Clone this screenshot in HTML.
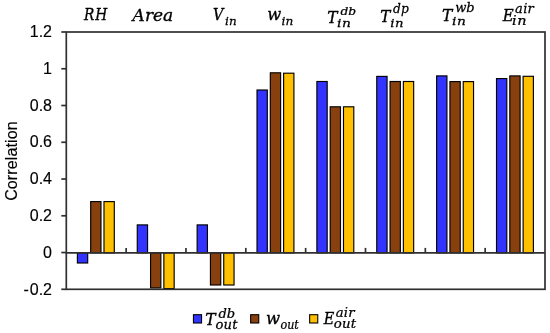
<!DOCTYPE html>
<html><head><meta charset="utf-8"><title>Correlation chart</title>
<style>
html,body{margin:0;padding:0;background:#fff;}
svg{display:block}
.a{font-family:"Liberation Sans",Arial,sans-serif;font-size:16px;fill:#000;stroke:#000;stroke-width:0.15px}
.m{font-family:"DejaVu Serif","Liberation Serif",serif;font-style:italic;fill:#000;stroke:#000;stroke-width:0.35px}
.c{font-family:"DejaVu Serif Condensed","DejaVu Serif","Liberation Serif",serif}
</style></head><body>
<svg width="550" height="333" viewBox="0 0 550 333">
<rect x="0" y="0" width="550" height="333" fill="#fff"/>
<g stroke="#000" stroke-width="1.15">
<rect x="77.39" y="252.90" width="10.30" height="10.10" fill="#3333FF"/>
<rect x="90.69" y="201.60" width="10.30" height="51.30" fill="#87400E"/>
<rect x="103.99" y="201.60" width="10.30" height="51.30" fill="#FFC000"/>
<rect x="137.26" y="224.90" width="10.30" height="28.00" fill="#3333FF"/>
<rect x="150.56" y="252.90" width="10.30" height="35.00" fill="#87400E"/>
<rect x="163.86" y="252.90" width="10.30" height="35.70" fill="#FFC000"/>
<rect x="197.14" y="224.90" width="10.30" height="28.00" fill="#3333FF"/>
<rect x="210.44" y="252.90" width="10.30" height="32.10" fill="#87400E"/>
<rect x="223.74" y="252.90" width="10.30" height="32.10" fill="#FFC000"/>
<rect x="257.01" y="90.00" width="10.30" height="162.90" fill="#3333FF"/>
<rect x="270.31" y="72.80" width="10.30" height="180.10" fill="#87400E"/>
<rect x="283.61" y="73.20" width="10.30" height="179.70" fill="#FFC000"/>
<rect x="316.89" y="81.50" width="10.30" height="171.40" fill="#3333FF"/>
<rect x="330.19" y="106.80" width="10.30" height="146.10" fill="#87400E"/>
<rect x="343.49" y="106.80" width="10.30" height="146.10" fill="#FFC000"/>
<rect x="376.76" y="76.40" width="10.30" height="176.50" fill="#3333FF"/>
<rect x="390.06" y="81.50" width="10.30" height="171.40" fill="#87400E"/>
<rect x="403.36" y="81.50" width="10.30" height="171.40" fill="#FFC000"/>
<rect x="436.64" y="75.90" width="10.30" height="177.00" fill="#3333FF"/>
<rect x="449.94" y="81.60" width="10.30" height="171.30" fill="#87400E"/>
<rect x="463.24" y="81.60" width="10.30" height="171.30" fill="#FFC000"/>
<rect x="496.51" y="78.60" width="10.30" height="174.30" fill="#3333FF"/>
<rect x="509.81" y="75.90" width="10.30" height="177.00" fill="#87400E"/>
<rect x="523.11" y="76.30" width="10.30" height="176.60" fill="#FFC000"/>
</g>
<g stroke="#303030" stroke-width="1.7" fill="none">
<rect x="66.3" y="32.0" width="478.7" height="257.3"/>
<line x1="66.3" y1="252.9" x2="545.0" y2="252.9"/>
<line x1="126.14" y1="252.9" x2="126.14" y2="247.9"/>
<line x1="185.97" y1="252.9" x2="185.97" y2="247.9"/>
<line x1="245.81" y1="252.9" x2="245.81" y2="247.9"/>
<line x1="305.65" y1="252.9" x2="305.65" y2="247.9"/>
<line x1="365.49" y1="252.9" x2="365.49" y2="247.9"/>
<line x1="425.32" y1="252.9" x2="425.32" y2="247.9"/>
<line x1="485.16" y1="252.9" x2="485.16" y2="247.9"/>
<line x1="61.3" y1="32.00" x2="66.3" y2="32.00"/>
<line x1="61.3" y1="68.76" x2="66.3" y2="68.76"/>
<line x1="61.3" y1="105.51" x2="66.3" y2="105.51"/>
<line x1="61.3" y1="142.27" x2="66.3" y2="142.27"/>
<line x1="61.3" y1="179.03" x2="66.3" y2="179.03"/>
<line x1="61.3" y1="215.79" x2="66.3" y2="215.79"/>
<line x1="61.3" y1="252.54" x2="66.3" y2="252.54"/>
<line x1="61.3" y1="289.30" x2="66.3" y2="289.30"/>
</g>
<g class="a" text-anchor="end">
<text x="52" y="37.20">1.2</text>
<text x="52" y="73.96">1</text>
<text x="52" y="110.71">0.8</text>
<text x="52" y="147.47">0.6</text>
<text x="52" y="184.23">0.4</text>
<text x="52" y="220.99">0.2</text>
<text x="52" y="257.74">0</text>
<text x="52" y="294.50"><tspan letter-spacing="0.8">-</tspan>0.2</text>
</g>
<text transform="translate(16.7,161) rotate(-90)" text-anchor="middle" letter-spacing="0.13" class="a">Correlation</text>
<g class="m">
<text transform="translate(84.09,20.35) scale(0.881,1)" font-size="17.3" class="c" letter-spacing="1.0">RH</text>
<text transform="translate(132.60,20.6) scale(0.985,1)" font-size="17.3">Area</text>
<text transform="translate(213.08,20.2) scale(0.916,1)" font-size="17.3" class="c">V</text>
<text transform="translate(225.09,25.3) scale(1.006,1)" font-size="11.9" stroke-width="0.25">in</text>
<text transform="translate(267.19,20.4) scale(0.983,1)" font-size="16.6">w</text>
<text transform="translate(281.48,25.2) scale(1.026,1)" font-size="11.9" stroke-width="0.25">in</text>
<text transform="translate(327.13,22.5) scale(0.984,1)" font-size="17.3" class="c">T</text>
<text transform="translate(340.45,14.8) scale(1.096,1)" font-size="11.2" stroke-width="0.25">db</text>
<text transform="translate(337.07,27.4) scale(1.203,1)" font-size="11.5" stroke-width="0.25" letter-spacing="0.4">in</text>
<text transform="translate(380.14,22.1) scale(0.975,1)" font-size="17.3" class="c">T</text>
<text transform="translate(393.07,12.55) scale(1.002,1)" font-size="12.2" stroke-width="0.25">dp</text>
<text transform="translate(390.30,27.4) scale(1.153,1)" font-size="11.5" stroke-width="0.25" letter-spacing="0.4">in</text>
<text transform="translate(442.12,20.9) scale(0.994,1)" font-size="17.3" class="c">T</text>
<text transform="translate(455.20,12.4) scale(1.088,1)" font-size="12.0" stroke-width="0.25">wb</text>
<text transform="translate(452.10,25.4) scale(1.160,1)" font-size="11.9" stroke-width="0.25" letter-spacing="0.4">in</text>
<text transform="translate(502.71,20.5) scale(0.964,1)" font-size="17.3" class="c">E</text>
<text transform="translate(515.12,12.55) scale(0.993,1)" font-size="13.2" stroke-width="0.25" letter-spacing="0.2">air</text>
<text transform="translate(512.07,25.4) scale(1.193,1)" font-size="12.1" stroke-width="0.25" letter-spacing="0.4">in</text>
<text transform="translate(205.32,325.1) scale(0.994,1)" font-size="17.3" class="c">T</text>
<text transform="translate(218.45,317.5) scale(1.089,1)" font-size="12.0" stroke-width="0.25">db</text>
<text transform="translate(215.49,329.15) scale(1.070,1)" font-size="12.3" stroke-width="0.25" letter-spacing="0.2">out</text>
<text transform="translate(265.98,323.6) scale(0.991,1)" font-size="16.6">w</text>
<text transform="translate(280.46,328.55) scale(0.915,1)" font-size="12.2" stroke-width="0.25">out</text>
<text transform="translate(323.70,323.8) scale(0.928,1)" font-size="17.3" class="c">E</text>
<text transform="translate(335.71,316.6) scale(1.015,1)" font-size="13.1" stroke-width="0.25" letter-spacing="0.2">air</text>
<text transform="translate(333.78,327.85) scale(1.085,1)" font-size="12.3" stroke-width="0.25" letter-spacing="0.2">out</text>
</g>
<rect x="193.45" y="314.7" width="8.1" height="8.3" fill="#3333FF" stroke="#000" stroke-width="1.1"/>
<rect x="250.65" y="314.7" width="8.1" height="8.3" fill="#87400E" stroke="#000" stroke-width="1.1"/>
<rect x="309.65" y="314.7" width="8.1" height="8.3" fill="#FFC000" stroke="#000" stroke-width="1.1"/>
</svg>
</body></html>
